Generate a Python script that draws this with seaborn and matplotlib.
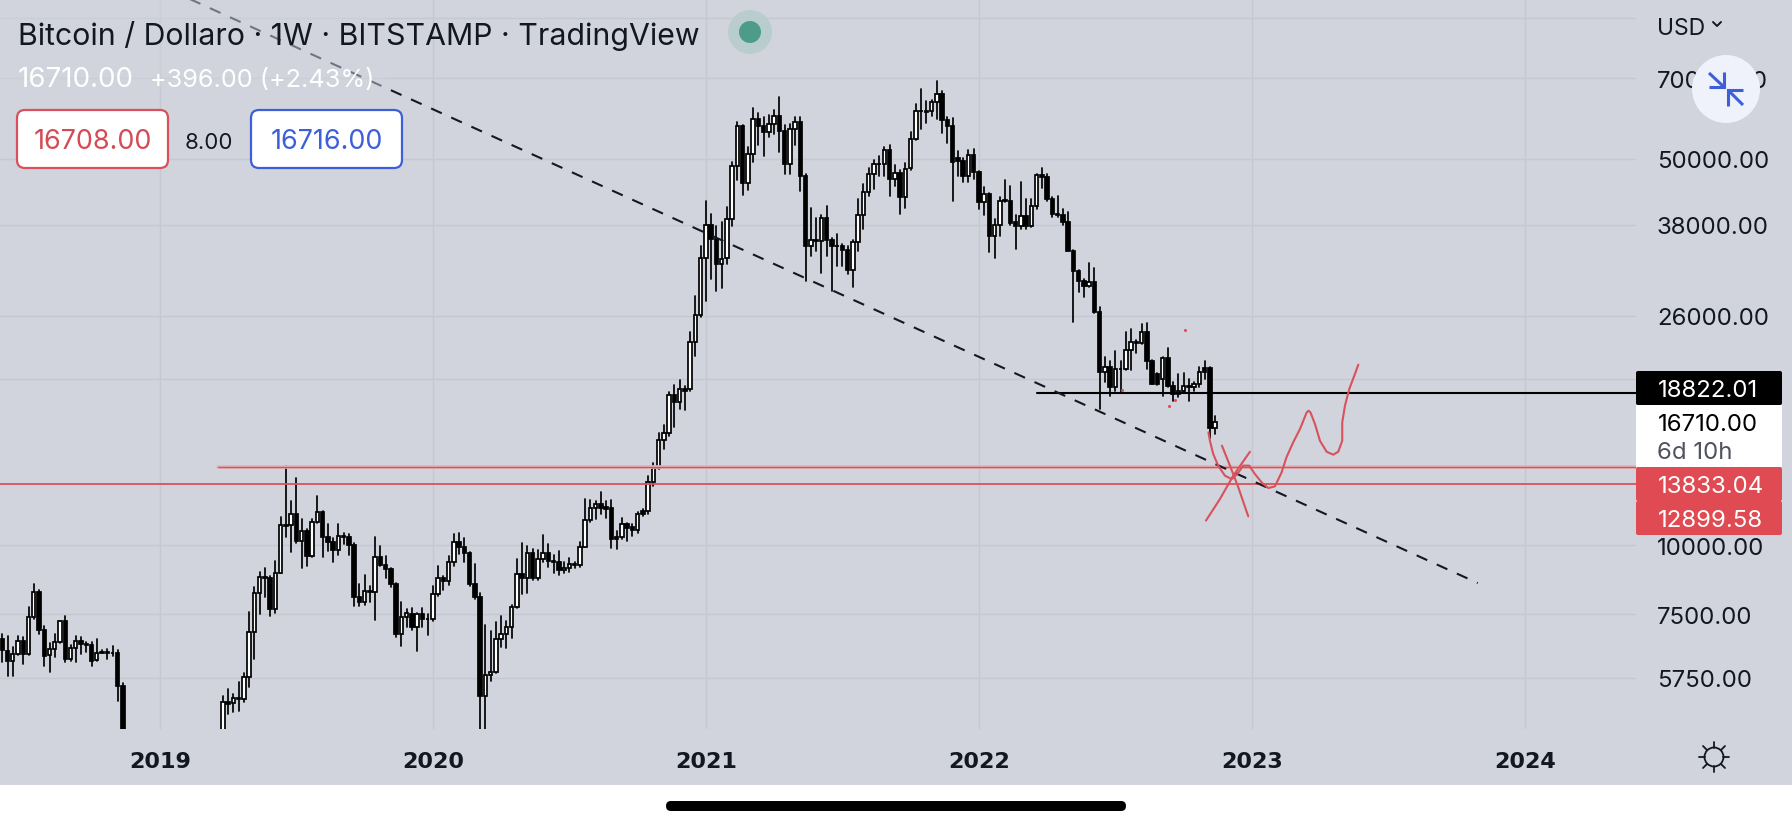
"""Bitcoin / Dollaro weekly candles on a log axis, TradingView mobile look."""

import matplotlib

matplotlib.use("Agg")

import pandas as pd
import seaborn as sns
from matplotlib import pyplot as plt
from matplotlib.patches import Circle, FancyBboxPatch, Rectangle
from matplotlib.ticker import NullLocator

# Weekly bars, first one is the week of 2018-06-04, last one 2022-11-14
opens = [
    7620, 6760, 6440, 6170, 6350, 6700, 6350, 7400, 8220, 7020,
    6330, 6480, 6680, 7280, 6230, 6500, 6700, 6610, 6590, 6190,
    6390, 6400, 6370, 6380, 5560, 4010, 3820, 3200, 3240, 3990,
    3830, 4060, 3620, 3600, 3530, 3460, 3670, 3670, 3840, 3790,
    3930, 3930, 3980, 4100, 5200, 5170, 5290, 5260, 5770, 6960,
    8200, 8740, 8720, 7650, 8900, 10850, 10850, 11400, 10170, 10600,
    9550, 11000, 11480, 10340, 10130, 9800, 10400, 10350, 10000, 8050,
    7880, 8270, 8220, 9520, 9200, 9040, 8500, 6900, 7400, 7500,
    7100, 7500, 7350, 7350, 8150, 8700, 8600, 9320, 10130, 9910,
    9660, 8500, 8040, 5340, 5830, 5880, 6770, 6900, 7100, 7740,
    8880, 8720, 9680, 8710, 9440, 9680, 9350, 9300, 9000, 9070,
    9240, 9200, 9930, 11090, 11670, 11850, 11700, 11670, 10330, 10330,
    10930, 10770, 10660, 11500, 11500, 13030, 13770, 15480, 15980, 18680,
    18180, 19190, 19150, 23300, 26100, 33000, 38000, 35800, 32200, 33100,
    38900, 48600, 57400, 45200, 50900, 58900, 57400, 55800, 57800, 59800,
    56100, 48900, 56600, 58200, 46500, 34700, 35600, 35500, 39000, 35600,
    34800, 34700, 34200, 31500, 35340, 39550, 43500, 46900, 48900, 49000,
    51800, 46000, 47200, 42700, 48100, 54300, 61000, 60900, 61000, 63300,
    65500, 58700, 57200, 50100, 49600, 46600, 50800, 47300, 41800, 43100,
    36200, 37900, 42100, 42000, 38400, 37800, 39400, 37800, 41100, 46800,
    46400, 42200, 39700, 39500, 38500, 34100, 31300, 30100, 29400, 29900,
    26400, 20600, 21000, 19300, 20850, 20800, 22500, 23300, 23200, 24300,
    21500, 20400, 19970, 21800, 19400, 18800, 19000, 19400, 19300, 19550,
    20900, 20900, 16314,
]
highs = [
    7780, 6890, 6840, 6540, 6840, 6810, 7720, 8500, 8290, 7150,
    6640, 6900, 7300, 7440, 6590, 6840, 6810, 6680, 6670, 6760,
    6470, 6480, 6560, 6450, 5620, 4400, 4000, 3590, 4140, 4230,
    4100, 4080, 3800, 3680, 3540, 3700, 3700, 4190, 3900, 3960,
    3950, 4050, 4290, 5330, 5490, 5370, 5650, 5860, 7570, 8390,
    8950, 9090, 8800, 9350, 11240, 13900, 12000, 13200, 11130, 10700,
    11130, 12270, 11530, 10900, 10300, 10900, 10500, 10450, 10100, 8500,
    8820, 8430, 10340, 9960, 9550, 9100, 8520, 7880, 7650, 7680,
    7520, 7680, 7500, 8440, 9170, 8800, 9570, 10470, 10500, 10300,
    9700, 9240, 8190, 7170, 6990, 7250, 7440, 7300, 7800, 9450,
    10080, 9950, 9830, 9800, 10430, 10040, 9600, 9760, 9310, 9470,
    9300, 10140, 12100, 12070, 12000, 12470, 12010, 12050, 10600, 11190,
    10980, 10900, 11480, 11620, 13350, 14100, 15950, 16460, 18930, 19480,
    19850, 19420, 24300, 28200, 34800, 41900, 39800, 37800, 38500, 40900,
    49400, 58400, 57600, 52600, 61700, 60500, 59600, 60100, 61200, 64800,
    57600, 57900, 59400, 59500, 47000, 40800, 39000, 39500, 41100, 36000,
    36500, 35000, 34700, 35600, 42300, 45000, 48100, 49800, 50500, 52500,
    52900, 48700, 47800, 49200, 56000, 62900, 66900, 63500, 63800, 69000,
    66300, 59500, 59200, 51600, 50100, 51800, 52100, 47500, 44500, 43300,
    38900, 42700, 45800, 44700, 39600, 45400, 42300, 42300, 46900, 48200,
    47000, 42700, 42900, 40500, 40000, 34200, 31400, 30300, 32400, 31700,
    27000, 21900, 21500, 22400, 21500, 24300, 24600, 23500, 25100, 25200,
    21600, 20500, 21900, 22700, 19700, 20400, 20500, 20000, 19700, 21000,
    21500, 21000, 17150,
]
lows = [
    6650, 6130, 5790, 5790, 6320, 6090, 6330, 7350, 6900, 6040,
    5900, 6270, 6650, 6140, 6170, 6140, 6350, 6400, 6050, 6170,
    6370, 6220, 6290, 5220, 3900, 3700, 3150, 3130, 3200, 3550,
    3650, 3500, 3500, 3500, 3370, 3410, 3570, 3660, 3690, 3660,
    3780, 3880, 3900, 4100, 4950, 4990, 5010, 5200, 5540, 6230,
    7500, 8050, 7440, 7530, 8900, 10340, 9700, 10100, 9090, 9160,
    9500, 10950, 9500, 9760, 9320, 9600, 10050, 9590, 7760, 7760,
    7800, 7880, 7320, 9150, 8700, 8400, 6810, 6560, 7100, 7030,
    6430, 7100, 6860, 7300, 8080, 8300, 8470, 9150, 9630, 9320,
    8430, 8000, 3850, 4450, 5680, 5860, 6550, 6500, 6780, 7700,
    8150, 8200, 8650, 8650, 9300, 9120, 8900, 8830, 8900, 8950,
    9090, 9130, 9900, 11000, 11130, 11400, 11190, 9880, 9825, 10250,
    10170, 10400, 10500, 11280, 11400, 12790, 13700, 14900, 15750, 16320,
    17600, 17570, 19000, 21980, 25900, 27700, 30300, 28800, 29200, 32300,
    37800, 45800, 43000, 43900, 49300, 53000, 50500, 54800, 55500, 51500,
    47000, 47000, 52900, 43800, 30000, 33300, 34000, 31100, 33300, 28800,
    32000, 32000, 31000, 29300, 34000, 37300, 42800, 44000, 46500, 46500,
    42800, 44600, 39700, 40800, 47800, 54000, 56500, 58000, 59800, 59000,
    55600, 53300, 42000, 46600, 45400, 45400, 46000, 40600, 39500, 33900,
    33100, 36200, 41800, 38000, 34300, 37300, 37300, 37700, 40600, 44200,
    42000, 39300, 39200, 37900, 34000, 25300, 28700, 28100, 29300, 26300,
    17600, 19700, 18600, 19000, 18950, 20700, 20700, 22300, 23100, 20800,
    19550, 19500, 18600, 19300, 18200, 18500, 18900, 18200, 19000, 19300,
    20000, 15600, 15870,
]
closes = [
    6760, 6450, 6170, 6350, 6700, 6350, 7400, 8220, 7020, 6300,
    6490, 6680, 7280, 6230, 6500, 6700, 6610, 6580, 6170, 6380,
    6400, 6370, 6390, 5560, 4350, 3820, 3200, 3240, 3990, 3830,
    4060, 3620, 3600, 3530, 3460, 3670, 3670, 3840, 3790, 3930,
    3930, 3980, 4100, 5200, 5150, 5290, 5260, 5770, 6960, 8200,
    8740, 8720, 7650, 8900, 10850, 10830, 11400, 10170, 10600, 9550,
    11000, 11480, 10340, 10130, 9800, 10400, 10350, 10000, 8050, 7880,
    8270, 8220, 9520, 9200, 9040, 8500, 6900, 7400, 7520, 7100,
    7500, 7350, 7350, 8150, 8700, 8600, 9320, 10130, 9910, 9660,
    8500, 8040, 5340, 5830, 5880, 6770, 6900, 7100, 7740, 8880,
    8720, 9680, 8710, 9440, 9680, 9350, 9300, 9000, 9070, 9240,
    9200, 9930, 11090, 11670, 11850, 11650, 11600, 10250, 10250, 10930,
    10720, 10660, 11370, 11370, 13030, 13770, 15480, 15980, 18680, 18180,
    19190, 19010, 23280, 26100, 33000, 38000, 35800, 32200, 32900, 38900,
    48500, 57400, 45200, 50900, 58900, 57400, 55800, 57800, 59800, 56100,
    48900, 56600, 58200, 46500, 34700, 35600, 35500, 39000, 35600, 34700,
    34700, 34200, 31500, 35340, 39550, 43500, 46900, 48900, 49000, 51800,
    46000, 47200, 42700, 48000, 54300, 61000, 60900, 60700, 63300, 65500,
    58700, 57200, 49400, 49600, 46600, 50800, 47300, 41800, 43100, 36200,
    37900, 42000, 42000, 38200, 37800, 39400, 37800, 41100, 46800, 46400,
    42200, 39700, 39500, 38500, 34100, 31300, 30100, 29400, 29900, 26400,
    20600, 21000, 19300, 20850, 20800, 22500, 23300, 23200, 24300, 21500,
    19550, 19550, 21800, 19400, 18800, 19000, 19400, 19300, 19550, 20600,
    20600, 16300, 16710,
]
week_dates = pd.date_range("2018-06-04", "2022-11-14", freq="W-MON")

# Axis ticks
price_ticks = [90000, 70000, 50000, 38000, 26000, 20000, 10000, 7500, 5750]
price_labels = ["", "70000.00", "50000.00", "38000.00", "26000.00",
                "20000.00", "10000.00", "7500.00", "5750.00"]
year_ticks = pd.to_datetime(["2019-01-07", "2020-01-06", "2021-01-04",
                             "2022-01-03", "2023-01-02", "2024-01-01"])
year_labels = ["2019", "2020", "2021", "2022", "2023", "2024"]

# Drawn levels and the dashed trend line
level_black = 18822.01
level_red_top = 13833.04
level_red_low = 12899.58
trend_dates = pd.to_datetime(["2019-02-16", "2023-10-30"])
trend_prices = [97300, 8535]

# Hand drawn red strokes, days counted from 2023-01-02
stroke_base = pd.Timestamp("2023-01-02")
curve_days = [-58, -56, -51.6, -45, -36, -27, -19.6, -11.6, -3.6, 4, 13, 21.8,
              30.7, 39.6, 46, 55, 64, 73, 75.6, 78, 84, 90.7, 99.6, 108.4, 115,
              120.4, 120.4, 124, 129.8, 137.3, 141.8]
curve_prices = [15990, 15440, 14610, 13920, 13350, 13160, 13440, 13920, 13920,
                13440, 12980, 12680, 12770, 13540, 14410, 15340, 16210, 17380,
                17500, 17380, 16560, 15440, 14750, 14570, 14750, 15440, 16670,
                17870, 19160, 20390, 21200]
cross_a_days = [-40, -29.3, -18.2, -4.9]
cross_a_prices = [15130, 13920, 12720, 11270]
cross_b_days = [-2.7, -24.9, -42.7, -61.3]
cross_b_prices = [14750, 13350, 12110, 11070]
speck_days = [-89, -110.6, -173.8, -102.7]
speck_prices = [24520, 17870, 19100, 18320]

BG = "#d1d4dc"
GRID = "#c5c8d1"
INK = "#131722"
RED = "#d9515b"
BLUE = "#3d5fd9"
W, H = 1792, 828


def in_dates(days):
    return [stroke_base + pd.Timedelta(days=d) for d in days]


def round_box(ax, x0, y0, x1, y1, r, face, edge="none", lw=0.0, z=5):
    ax.add_patch(FancyBboxPatch(
        (x0 + r, y0 + r), x1 - x0 - 2 * r, y1 - y0 - 2 * r,
        boxstyle=f"round,pad={r},rounding_size={r}",
        facecolor=face, edgecolor=edge, linewidth=lw, zorder=z,
    ))


sns.set_theme(style="whitegrid", rc={
    "axes.edgecolor": GRID,
    "grid.color": GRID,
    "grid.linewidth": 1.0,
})
plt.rcParams["font.family"] = ["Inter", "DejaVu Sans"]

fig = plt.figure(figsize=(W / 100, H / 100), dpi=100, facecolor="white")

# Grey panel behind everything, white strip stays at the bottom
back = fig.add_axes([0, (H - 786) / H, 1, 786 / H])
back.set_facecolor(BG)
back.set_xticks([])
back.set_yticks([])
for spine in back.spines.values():
    spine.set_visible(False)

ax = fig.add_axes([0, (H - 730) / H, 1636 / W, 730 / H], facecolor="none")
ax.set_yscale("log")
ax.set_ylim(4646, 97300)
ax.set_xlim(pd.Timestamp("2018-06-08"), pd.Timestamp("2024-05-28"))

# Wicks
wicks = pd.DataFrame({
    "date": list(week_dates) * 2,
    "price": lows + highs,
    "week": list(range(len(week_dates))) * 2,
})
sns.lineplot(data=wicks, x="date", y="price", units="week", estimator=None,
             color="black", linewidth=1.25, sort=False, ax=ax, legend=False,
             zorder=3)

# Bodies: hollow white when the week closed up, solid black otherwise
bottoms = [min(o, c) for o, c in zip(opens, closes)]
heights = [abs(c - o) for o, c in zip(opens, closes)]
faces = ["white" if c >= o else "black" for o, c in zip(opens, closes)]
ax.bar(week_dates, heights, bottom=bottoms, width=4.6, color=faces,
       edgecolor="black", linewidth=1.25, zorder=4)

# Levels
sns.lineplot(x=[pd.Timestamp("2019-03-25"), pd.Timestamp("2024-05-28")],
             y=[level_red_top] * 2, color="#e3b4b8", linewidth=2.6, ax=ax,
             zorder=5)
sns.lineplot(x=[pd.Timestamp("2019-03-25"), pd.Timestamp("2024-05-28")],
             y=[level_red_top] * 2, color=RED, linewidth=1.0, ax=ax, zorder=5)
sns.lineplot(x=[pd.Timestamp("2018-06-08"), pd.Timestamp("2024-05-28")],
             y=[level_red_low] * 2, color=RED, linewidth=1.3, ax=ax, zorder=5)
sns.lineplot(x=[pd.Timestamp("2022-03-21"), pd.Timestamp("2024-05-28")],
             y=[level_black] * 2, color="black", linewidth=1.5, ax=ax, zorder=5)
ax.plot(trend_dates, trend_prices, color=INK, linewidth=1.5, zorder=5,
        linestyle=(0, (5.6, 5.0)))

# Red hand drawing
for days, prices in [(curve_days, curve_prices),
                     (cross_a_days, cross_a_prices),
                     (cross_b_days, cross_b_prices)]:
    sns.lineplot(x=in_dates(days), y=prices, color=RED, linewidth=1.5,
                 sort=False, estimator=None, ax=ax, zorder=6,
                 solid_joinstyle="round")
sns.scatterplot(x=in_dates(speck_days), y=speck_prices, color=RED, s=5,
                linewidth=0, ax=ax, zorder=6)

ax.set_xlabel("")
ax.set_ylabel("")
ax.yaxis.tick_right()
ax.set_yticks(price_ticks)
ax.set_yticklabels(price_labels)
ax.yaxis.set_minor_locator(NullLocator())
ax.set_xticks(year_ticks)
ax.set_xticklabels(year_labels, fontweight="bold", family="DejaVu Sans")
ax.tick_params(axis="y", length=0, pad=15, labelsize=17.3, labelcolor=INK)
ax.tick_params(axis="x", length=0, pad=16, labelsize=16, labelcolor=INK)
ax.grid(True, color=GRID, linewidth=1.0)
ax.set_axisbelow(True)
for spine in ax.spines.values():
    spine.set_visible(False)

# Everything that sits on top is placed in screen pixels
top = fig.add_axes([0, 0, 1, 1], facecolor="none")
top.set_xlim(0, W)
top.set_ylim(H, 0)
top.axis("off")

# Legend fade over the chart
top.add_patch(Rectangle((0, 0), 385, 90, facecolor=BG, alpha=0.5, linewidth=0,
                        zorder=1))

top.text(18, 45, "Bitcoin / Dollaro · 1W · BITSTAMP · TradingView", fontsize=21.8,
         color=INK, va="baseline", ha="left", zorder=5)
top.add_patch(Circle((750, 33), 22, facecolor="#b9cdcf", linewidth=0, zorder=4))
top.add_patch(Circle((750, 33), 11, facecolor="#4d9c88", linewidth=0, zorder=5))
top.text(18, 87, "16710.00", fontsize=20, color="white", va="baseline", zorder=5)
top.text(150, 87, "+396.00 (+2.43%)", fontsize=18.2, color="white",
         va="baseline", zorder=5)

round_box(top, 17, 111, 168, 169, 8, "white", edge=RED, lw=1.6)
top.text(92.5, 149, "16708.00", fontsize=19.4, color="#d44a55", ha="center",
         va="baseline", zorder=6)
top.text(209, 149, "8.00", fontsize=16, color=INK, ha="center", va="baseline",
         zorder=6)
round_box(top, 251, 111, 402, 169, 8, "white", edge=BLUE, lw=1.6)
top.text(326.5, 149, "16716.00", fontsize=19.4, color=BLUE, ha="center",
         va="baseline", zorder=6)

# Price scale corner
top.text(1657, 35, "USD", fontsize=16.5, color=INK, va="baseline", zorder=6)
top.plot([1713, 1717, 1721], [23, 27, 23], color=INK, linewidth=1.4, zorder=6)
top.add_patch(Circle((1726, 90), 34, facecolor="#eff2fa", linewidth=0, zorder=6))
for xs, ys in [([1709, 1724], [74, 88]), ([1724, 1724, 1709], [73, 88, 88]),
               ([1743, 1728], [106, 91]), ([1728, 1728, 1743], [107, 91, 91])]:
    top.plot(xs, ys, color=BLUE, linewidth=2.2, zorder=7,
             solid_capstyle="butt", solid_joinstyle="miter")

# Price tags
round_box(top, 1636, 372, 1782, 406, 2, "black", z=6)
top.text(1658, 397, "18822.01", fontsize=17.3, color="white", ha="left",
         va="baseline", zorder=7)
top.add_patch(Rectangle((1636, 406), 146, 62, facecolor="white", linewidth=0,
                        zorder=6))
top.text(1658, 431, "16710.00", fontsize=17.3, color="black", ha="left",
         va="baseline", zorder=7)
top.text(1657, 459, "6d 10h", fontsize=17.3, color="#50535e", ha="left",
         va="baseline", zorder=7)
round_box(top, 1636, 468, 1782, 502, 2, "#e04a52", z=6)
top.text(1658, 493, "13833.04", fontsize=17.3, color="white", ha="left",
         va="baseline", zorder=7)
round_box(top, 1636, 502, 1782, 536, 2, "#e04a52", z=6)
top.text(1658, 527, "12899.58", fontsize=17.3, color="white", ha="left",
         va="baseline", zorder=7)

# Sun icon
top.add_patch(Circle((1714, 758), 9.5, facecolor="none", edgecolor=INK,
                     linewidth=1.3, zorder=6))
for xs, ys in [([1714, 1714], [743, 749]), ([1714, 1714], [767, 773]),
               ([1699, 1705], [758, 758]), ([1723, 1729], [758, 758]),
               ([1703, 1707], [747, 751]), ([1721, 1725], [765, 769]),
               ([1703, 1707], [769, 765]), ([1721, 1725], [751, 747])]:
    top.plot(xs, ys, color=INK, linewidth=1.3, zorder=6)

# Home bar
round_box(top, 666, 802, 1126, 812, 5, "black", z=6)

fig.savefig("out.png", dpi=100, facecolor="white")
